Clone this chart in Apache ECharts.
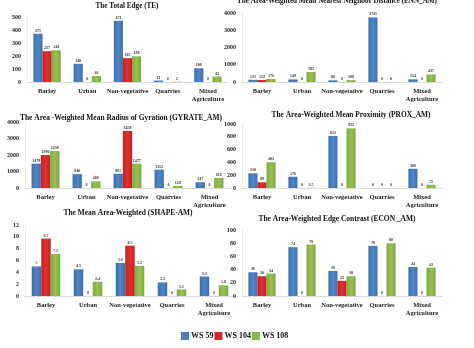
<!DOCTYPE html>
<html><head><meta charset="utf-8">
<script src="https://cdn.jsdelivr.net/npm/echarts@6/dist/echarts.min.js"></script>
<style>html,body{margin:0;padding:0;background:#fff}#c{width:474px;height:348px}</style>
</head><body><div id="c"></div>
<script>
const categories = ['Barley','Urban','Non-vegetative','Quarries','Mixed\nAgriculture'];
const seriesNames = ['WS 59','WS 104','WS 108'];

// The Total Edge (TE)
const te59  = [371,140,471,11,106];
const te104 = [237,0,183,0,0];
const te108 = [244,46,198,2,42];
// ENN_AM
const enn59  = [131,149,96,3745,154];
const enn104 = [112,0,0,0,0];
const enn108 = [176,582,108,0,437];
// GYRATE_AM
const gyr59  = [1479,840,865,1112,347];
const gyr104 = [1996,0,3458,0,0];
const gyr108 = [2238,400,1477,128,616];
// PROX_AM
const prox59  = [230,176,813,0,300];
const prox104 = [89,0,0,0,0];
const prox108 = [403,3.5,932,0,51];
// SHAPE_AM
const shp59  = [5,4.5,5.6,2.3,3.3];
const shp104 = [9.7,0,8.5,0,0];
const shp108 = [7.1,2.4,5.1,1.1,1.8];
// ECON_AM
const econ59  = [36,74,38,76,44];
const econ104 = [30,0,23,0,0];
const econ108 = [34,78,30,80,43];

const titles = [
  'The Total Edge (TE)',
  'The Area-Weighted Mean Nearest Neighbor Distance (ENN_AM)',
  'The Area -Weighted Mean Radius of Gyration (GYRATE_AM)',
  'The Area-Weighted Mean Proximity (PROX_AM)',
  'The Mean Area-Weighted (SHAPE-AM)',
  'The Area-Weighted Edge Contrast (ECON _AM)'
];
const panels = [
  {data:[te59,te104,te108], max:500, interval:100},
  {data:[enn59,enn104,enn108], max:4000, interval:1000},
  {data:[gyr59,gyr104,gyr108], max:4000, interval:1000},
  {data:[prox59,prox104,prox108], max:1000, interval:200},
  {data:[shp59,shp104,shp108], max:12, interval:2},
  {data:[econ59,econ104,econ108], max:100, interval:20}
];

const FONT = '"Liberation Serif", "Times New Roman", serif';
const grids = [
  {left:27, top:17, width:201, height:65},
  {left:242, top:13, width:200, height:69},
  {left:25, top:122, width:205, height:66},
  {left:242, top:124, width:200, height:64},
  {left:25, top:225, width:210, height:71},
  {left:242, top:230, width:200, height:66}
];
const titlePos = [[127,6],[337,1],[121,118],[351,115],[128,213],[337,219]];
const titleWidth = [63,200,202,159,129,157];

function grad(c1,c2){
  return new echarts.graphic.LinearGradient(0,0,1,0,[
    {offset:0,color:c1},{offset:0.5,color:c2},{offset:1,color:c1}]);
}
const colors = ['#4A7EBB','#D9262B','#8DB849'];
const fills = [grad('#3E6EAA','#4F86C6'), grad('#C81E22','#E0302F'), grad('#7FA93F','#97C152')];

const chart = echarts.init(document.getElementById('c'), null, {renderer:'canvas'});
const xAxis = [], yAxis = [], series = [];
panels.forEach((p,i)=>{
  xAxis.push({type:'category', gridIndex:i, data:categories,
    axisLine:{lineStyle:{color:'#d9d9d9',width:1}}, axisTick:{show:false},
    axisLabel:{interval:0, margin:5, fontFamily:FONT, fontWeight:'bold', fontSize:6.5, color:'#222', lineHeight:8}});
  yAxis.push({type:'value', gridIndex:i, min:0, max:p.max, interval:p.interval,
    axisLine:{show:true, lineStyle:{color:'#ececec'}}, axisTick:{show:false}, splitLine:{show:false},
    axisLabel:{margin:6, fontFamily:FONT, fontWeight:'bold', fontSize:6, color:'#222', formatter:v=>String(v)}});
  p.data.forEach((d,k)=>{
    series.push({type:'bar', name:seriesNames[k], xAxisIndex:i, yAxisIndex:i, data:d,
      barGap:'0%', barCategoryGap:'32%',
      itemStyle:{color:fills[k]},
      label:{show:true, position:'top', distance:1, fontFamily:FONT, fontWeight:'bold', fontSize:4, color:'#333'}});
  });
});

const ctx = document.createElement('canvas').getContext('2d');
ctx.font = 'bold 9px Liberation Serif';
const graphics = titles.map((t,i)=>{
  const w = ctx.measureText(t).width;
  const sx = Math.min(1, titleWidth[i]/w);
  return {type:'text', x:titlePos[i][0], y:titlePos[i][1], scaleX:sx,
    style:{text:t, align:'center', verticalAlign:'middle', font:'bold 9px '+FONT, fill:'#111'}};
});

chart.setOption({
  animation:false,
  color:colors,
  grid:grids, xAxis, yAxis, series,
  graphic:graphics,
  legend:{data:seriesNames.map((n,k)=>({name:n, itemStyle:{color:colors[k]}})), left:176, top:327, icon:'rect', itemWidth:8, itemHeight:8, itemGap:1,
    textStyle:{fontFamily:FONT, fontWeight:'bold', fontSize:8, color:'#111', padding:[0,0,0,-3]}}
});
</script></body></html>
